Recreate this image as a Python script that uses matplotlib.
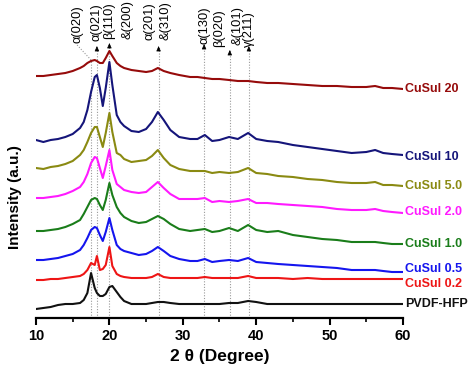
import matplotlib
matplotlib.use("Agg")
import matplotlib.pyplot as plt

plt.rcParams['font.family'] = ['Liberation Sans', 'DejaVu Sans']

# 2-theta positions (degrees) at which the curves were read
two_theta = [10, 11, 12, 13, 14, 15, 16, 16.5, 17, 17.5, 18, 18.3, 18.7, 19.1, 19.5, 20, 20.4,
             21, 21.5, 22, 23, 24, 25, 25.8, 26.6, 27.4, 28.3, 29.5, 31, 32, 33, 34, 35, 36.3,
             37.5, 38.9, 40, 41.5, 43, 45, 47, 49, 51, 53, 55, 56.2, 57.3, 58.5, 60]

# Stacked intensities (a.u., offset included)
cusul_20 = [242, 242, 243, 244, 245, 247, 250, 252, 255, 257, 258, 257, 255, 255, 260, 267, 262,
            255, 252, 250, 248, 247, 246, 247, 250, 247, 245, 243, 241, 241, 240, 239, 239, 238,
            237, 237, 236, 235, 235, 234, 233, 232, 232, 231, 231, 232, 230, 230, 229]
cusul_10 = [178, 176, 178, 179, 181, 184, 190, 196, 208, 226, 241, 243, 230, 212, 230, 256, 233,
            203, 196, 192, 187, 186, 189, 196, 206, 198, 188, 181, 179, 179, 183, 177, 178, 181,
            179, 185, 179, 177, 176, 173, 171, 169, 167, 165, 166, 168, 165, 164, 163]
cusul_5 = [150, 149, 151, 152, 154, 157, 163, 168, 176, 185, 191, 191, 181, 171, 185, 205, 186,
           165, 163, 159, 156, 157, 158, 162, 168, 160, 153, 149, 147, 147, 147, 145, 146, 145,
           146, 150, 145, 144, 142, 141, 139, 138, 136, 135, 135, 136, 133, 133, 132]
cusul_2 = [120, 120, 121, 122, 124, 127, 131, 136, 144, 155, 161, 160, 150, 140, 152, 168, 148,
           134, 131, 128, 126, 125, 126, 131, 136, 130, 124, 119, 119, 119, 120, 116, 117, 116,
           117, 119, 115, 115, 114, 113, 112, 111, 109, 108, 108, 109, 107, 106, 105]
cusul_1 = [87, 87, 88, 89, 91, 94, 98, 104, 111, 118, 120, 119, 113, 108, 118, 135, 123,
           111, 105, 101, 97, 95, 96, 99, 102, 99, 94, 89, 87, 88, 89, 86, 87, 90,
           87, 93, 88, 86, 87, 83, 81, 79, 78, 76, 76, 76, 75, 74, 74]
cusul_05 = [58, 58, 59, 60, 62, 64, 68, 73, 80, 88, 91, 90, 83, 77, 86, 100, 88,
            73, 69, 67, 65, 63, 64, 67, 71, 67, 62, 59, 57, 57, 59, 56, 57, 58,
            57, 60, 56, 55, 54, 53, 52, 51, 50, 48, 48, 48, 47, 46, 46]
cusul_02 = [38, 38, 39, 39, 40, 41, 42, 44, 48, 55, 53, 62, 48, 49, 53, 71, 52,
            44, 42, 41, 40, 40, 40, 41, 44, 41, 40, 40, 40, 40, 41, 40, 40, 40,
            40, 42, 40, 40, 40, 39, 40, 39, 39, 39, 39, 39, 39, 39, 39]
pvdf_hfp = [9, 10, 11, 13, 14, 14, 15, 18, 25, 45, 30, 25, 22, 22, 24, 31, 32,
            26, 21, 17, 14, 14, 14, 15, 16, 16, 15, 14, 14, 14, 14, 14, 14, 15,
            15, 17, 16, 14, 14, 14, 14, 14, 14, 14, 14, 14, 14, 14, 14]

series = [
    ("CuSul 20", cusul_20, "#960b0b", 229),
    ("CuSul 10", cusul_10, "#15157a", 161),
    ("CuSul 5.0", cusul_5, "#8a8a12", 132),
    ("CuSul 2.0", cusul_2, "#ff1aff", 106),
    ("CuSul 1.0", cusul_1, "#1a7d1a", 74),
    ("CuSul 0.5", cusul_05, "#1515ee", 49),
    ("CuSul 0.2", cusul_02, "#ee1515", 34),
    ("PVDF-HFP", pvdf_hfp, "#111111", 14),
]

# reflection markers
peak_lines = [17.5, 18.3, 20.0, 26.7, 32.9, 36.4, 39.0]
arrow_tips = [(18.3, 272), (20.0, 275), (26.7, 272), (32.9, 274), (36.4, 268), (39.0, 272)]
peak_labels = [("α(020)", 15.6, 275), ("α(021)", 18.3, 277), ("β(110)", 20.0, 279),
               ("&(200)", 22.4, 279), ("α(201)", 25.5, 278), ("&(310)", 27.7, 278),
               ("α(130)", 32.9, 274), ("β(020)", 35.0, 271), ("&(101)", 37.4, 273),
               ("γ(211)", 39.0, 271)]

W, H = 474, 370
fig = plt.figure(figsize=(W / 100, H / 100), dpi=100)
ax = fig.add_axes([36 / W, 1 - 318 / H, (403 - 36) / W, 318 / H])
ax.set_xlim(10, 60)
ax.set_ylim(0, 318)

tips = dict(arrow_tips)
for xv in peak_lines:
    top = 258 if xv == 17.5 else tips.get(xv, 270)
    ax.plot([xv, xv], [0, top], ls=(0, (1, 1.5)), color="#9a9a9a", lw=0.8, zorder=1)
# alpha(020) leader
ax.plot([15.6, 17.5], [273, 258], ls=(0, (1, 1.5)), color="#9a9a9a", lw=0.8, zorder=1)

for xv, yt in arrow_tips:
    ax.annotate("", xy=(xv, yt), xytext=(xv, yt - 5),
                arrowprops=dict(arrowstyle="-|>,head_length=0.3,head_width=0.13",
                                color="black", lw=0.5), annotation_clip=False)

for name, vals, col, ylab in series:
    ax.plot(two_theta, vals, color=col, lw=1.5, zorder=3)
    ax.text(60.3, ylab, name, color=col, fontsize=9, fontweight="bold",
            va="center", ha="left", clip_on=False)

for lab, xv, yb in peak_labels:
    ax.text(xv, yb, lab, rotation=90, fontsize=9.3, ha="center", va="bottom",
            clip_on=False)

for s in ["left", "right", "top"]:
    ax.spines[s].set_visible(False)
ax.spines["bottom"].set_linewidth(1.6)
ax.set_yticks([])
ax.set_xticks([10, 20, 30, 40, 50, 60])
ax.set_xticks([15, 25, 35, 45, 55], minor=True)
ax.tick_params(axis="x", which="major", direction="out", length=5, width=1.5,
               labelsize=10.5, pad=3)
ax.tick_params(axis="x", which="minor", direction="out", length=3, width=1.2)
for t in ax.get_xticklabels():
    t.set_fontweight("bold")

fig.text(220 / W, 1 - 357 / H, "2 θ (Degree)", fontsize=12.5, fontweight="bold",
         ha="center", va="center")
fig.text(15 / W, 1 - 197 / H, "Intensity (a.u.)", fontsize=11, fontweight="bold",
         rotation=90, ha="center", va="center")

fig.savefig("out.png", dpi=100)
